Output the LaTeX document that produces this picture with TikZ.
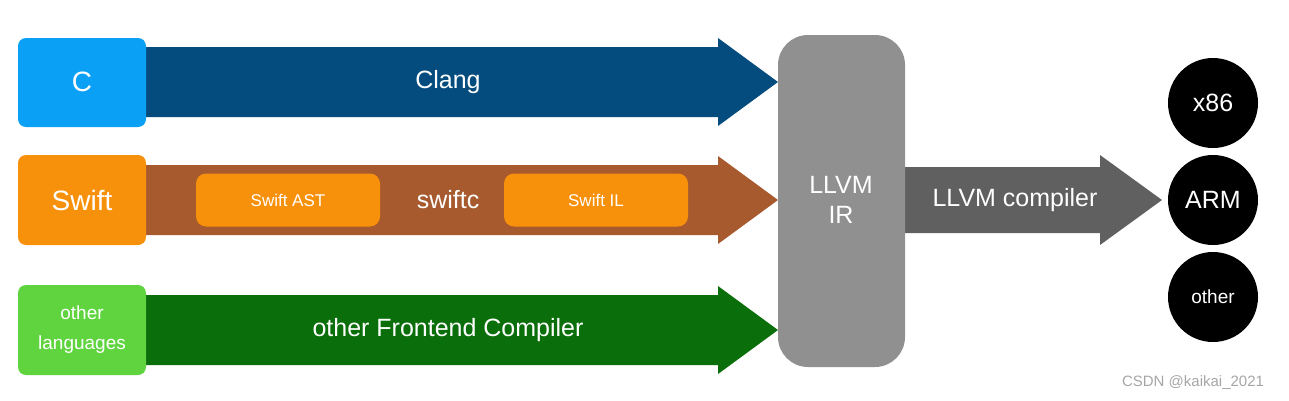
\documentclass[tikz,border=0pt]{standalone}
\usepackage{fontspec}
\setmainfont{Liberation Sans}
\usetikzlibrary{shapes.arrows}
\definecolor{cblue}{HTML}{0AA0F5}
\definecolor{dblue}{HTML}{054C7E}
\definecolor{sorange}{HTML}{F7900A}
\definecolor{brown}{HTML}{A65A2E}
\definecolor{lgreen}{HTML}{5FD43F}
\definecolor{dgreen}{HTML}{0A6E0A}
\definecolor{llgray}{HTML}{909090}
\definecolor{agray}{HTML}{606060}
\begin{document}
\begin{tikzpicture}[x=1pt,y=-1pt,
  src/.style={rounded corners=8pt,text=white,font=\fontsize{26}{28}\selectfont},
  inner/.style={fill=sorange,rounded corners=10pt,text=white,font=\fontsize{17}{19}\selectfont,minimum width=184pt,minimum height=53pt,inner sep=0pt},
  lbl/.style={text=white,font=\fontsize{25}{27}\selectfont},
  tgt/.style={circle,fill=black,text=white,minimum size=90pt,inner sep=0pt}]
\useasboundingbox (0,0) rectangle (1289,400);
% arrows
\foreach \y/\c in {82/dblue,200/brown,330/dgreen}{
  \fill[\c] (146,\y-35) -- (718,\y-35) -- (718,\y-44) -- (778,\y) -- (718,\y+44) -- (718,\y+35) -- (146,\y+35) -- cycle;
}
\fill[agray] (900,167) -- (1100,167) -- (1100,155) -- (1162,200) -- (1100,245) -- (1100,233) -- (900,233) -- cycle;
% sources
\fill[cblue,rounded corners=8pt] (18,38) rectangle (146,127);
\node[lbl,font=\fontsize{28}{30}\selectfont] (c) at (82,82) {C};
\fill[sorange,rounded corners=8pt] (18,155) rectangle (146,245);
\node[lbl,font=\fontsize{28}{30}\selectfont] (swift) at (82,200) {Swift};
\fill[lgreen,rounded corners=8pt] (18,285) rectangle (146,375);
\node[text=white,align=center,font=\fontsize{19}{30}\selectfont] (other) at (82,330) {other\\languages};
% labels
\node[lbl] (clang) at (448,82) {Clang};
\node[lbl] (swiftc) at (448,200) {swiftc};
\node[lbl] (ofc) at (448,330) {other Frontend Compiler};
\node[inner] (ast) at (288,200) {Swift AST};
\node[inner] (il) at (596,200) {Swift IL};
% LLVM IR
\fill[llgray,rounded corners=30pt] (778,35) rectangle (905,367);
\node[lbl,align=center,font=\fontsize{25}{30}\selectfont] (ir) at (841,200) {LLVM\\IR};
\node[lbl] (lc) at (1015,200) {LLVM compiler};
% targets
\node[tgt,font=\fontsize{25}{27}\selectfont] (x86) at (1213,103) {x86};
\node[tgt,font=\fontsize{25}{27}\selectfont] (arm) at (1213,200) {ARM};
\node[tgt,font=\fontsize{19}{21}\selectfont] (oth) at (1213,297) {other};
\node[text=gray!70,font=\fontsize{15}{17}\selectfont] (wm) at (1193,383) {CSDN @kaikai\_2021};
\end{tikzpicture}
\end{document}
